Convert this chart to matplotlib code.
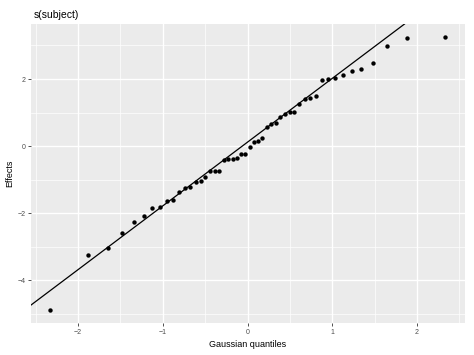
import numpy as np
import matplotlib
matplotlib.use("Agg")
import matplotlib.pyplot as plt

plt.rcParams['font.family'] = ['Liberation Sans', 'DejaVu Sans']

# Gaussian quantiles (n = 50) and sorted effects
quantiles = [-2.326, -1.881, -1.645, -1.476, -1.341, -1.227, -1.126, -1.036, -0.954, -0.878,
             -0.806, -0.739, -0.674, -0.613, -0.553, -0.496, -0.440, -0.385, -0.332, -0.279,
             -0.228, -0.176, -0.126, -0.075, -0.025, 0.025, 0.075, 0.126, 0.176, 0.228,
             0.279, 0.332, 0.385, 0.440, 0.496, 0.553, 0.613, 0.674, 0.739, 0.806,
             0.878, 0.954, 1.036, 1.126, 1.227, 1.341, 1.476, 1.645, 1.881, 2.326]
effects = [-4.87, -3.25, -3.02, -2.58, -2.27, -2.07, -1.85, -1.82, -1.64, -1.61,
           -1.36, -1.26, -1.22, -1.06, -1.04, -0.91, -0.73, -0.73, -0.73, -0.42,
           -0.38, -0.37, -0.36, -0.24, -0.24, -0.02, 0.11, 0.14, 0.24, 0.58,
           0.65, 0.69, 0.87, 0.96, 1.02, 1.01, 1.27, 1.41, 1.44, 1.48,
           1.98, 2.01, 2.02, 2.12, 2.24, 2.29, 2.47, 2.99, 3.21, 3.24]

# reference line
line_intercept = 0.12
line_slope = 1.90

x_ticks = [-2, -1, 0, 1, 2]
y_ticks = [-4, -2, 0, 2]

fig = plt.figure(figsize=(4.74, 3.55), dpi=100)
ax = fig.add_axes([0.0654, 0.0901, 0.9156, 0.8423])
ax.set_facecolor('#EBEBEB')

ax.set_xlim(-2.555, 2.566)
ax.set_ylim(-5.27, 3.64)

ax.set_xticks(x_ticks)
ax.set_yticks(y_ticks)
ax.set_xticks([-2.5, -1.5, -0.5, 0.5, 1.5, 2.5], minor=True)
ax.set_yticks([-5, -3, -1, 1, 3], minor=True)
ax.grid(which='major', color='white', linewidth=1.0)
ax.grid(which='minor', color='white', linewidth=0.5)
ax.set_axisbelow(True)

ax.tick_params(which='major', length=2, width=0.6, color='#333333',
               labelsize=5, labelcolor='#4D4D4D', pad=2)
ax.tick_params(which='minor', length=0)
for s in ax.spines.values():
    s.set_visible(False)

ax.axline((0, line_intercept), slope=line_slope, color='black', linewidth=0.9)
ax.scatter(quantiles, effects, s=10, color='black', zorder=3, linewidths=0)

ax.set_xlabel('Gaussian quantiles', fontsize=6.5, labelpad=3)
ax.set_ylabel('Effects', fontsize=6.5, labelpad=2)
fig.text(0.072, 0.958, 's(subject)', fontsize=7.5, ha='left', va='center')

fig.savefig('out.png', dpi=100)
